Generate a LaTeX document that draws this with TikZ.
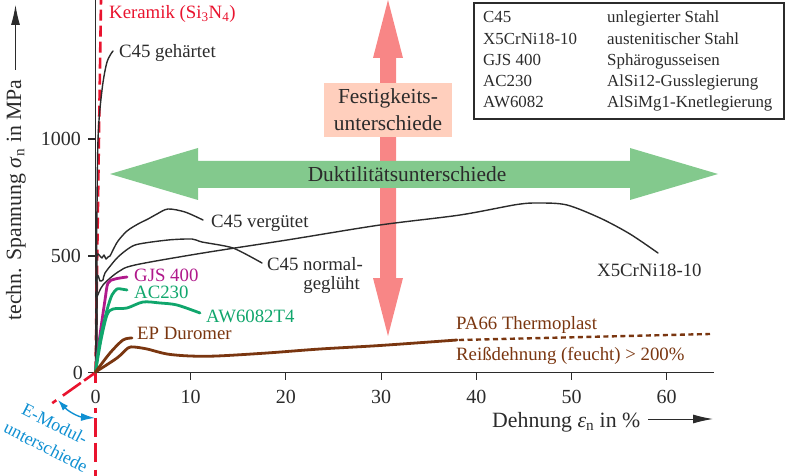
\documentclass[tikz,border=0pt]{standalone}
\usepackage{fontspec}
\setmainfont{Liberation Serif}
\usetikzlibrary{arrows.meta,positioning}
\definecolor{inkgray}{HTML}{2B2B2B}
\definecolor{ceramicred}{HTML}{E9132E}
\definecolor{arrowred}{HTML}{F88686}
\definecolor{arrowgreen}{HTML}{83C98D}
\definecolor{boxpeach}{HTML}{FFCFBD}
\definecolor{gjspurple}{HTML}{B0198B}
\definecolor{alugreen}{HTML}{10A66C}
\definecolor{polybrown}{HTML}{7A3610}
\definecolor{moduleblue}{HTML}{1090D2}

\begin{document}
\begin{tikzpicture}[x=1pt,y=-1pt,
        every node/.style={inner sep=0,text=inkgray},
        lab/.style={anchor=base west,font=\fontsize{18.8}{20}\selectfont},
        rowlab/.style={anchor=base west,font=\fontsize{16.9}{20}\selectfont},
        ticklab/.style={font=\fontsize{20}{22}\selectfont},
        axislab/.style={font=\fontsize{21.8}{24}\selectfont},
        biglab/.style={font=\fontsize{21.4}{27}\selectfont,align=center},
        bluelab/.style={anchor=center,rotate=-27,text=moduleblue,font=\fontsize{18}{20}\selectfont},
        curve/.style={line width=1.4pt,draw=inkgray,line cap=round,line join=round},
        thickcurve/.style={line width=2.8pt,line cap=round,line join=round},
        axis/.style={line width=1.1pt,draw=inkgray},
        ceramic/.style={line width=2.6pt,draw=ceramicred},
        ]
\useasboundingbox (0,0) rectangle (785,476);

% big arrows
\fill[arrowred] (388,0) -- (403,58) -- (396,58) -- (396,278) -- (403,278) -- (388,336)
    -- (373,278) -- (380,278) -- (380,58) -- (373,58) -- cycle;
\fill[arrowgreen] (110,174) -- (198,148) -- (198,161) -- (630,161) -- (630,148) -- (718,174)
    -- (630,200) -- (630,188) -- (198,188) -- (198,200) -- cycle;
\node [biglab,fill=boxpeach,minimum width=128pt,minimum height=54pt] (festigkeit) at (388,110) {Festigkeits-\\unterschiede};
\node [biglab] (duktil) at (407,174) {Duktilitätsunterschiede};

% axes
\coordinate (origin) at (95.5,372.5);
\coordinate (ytop) at (95.5,0);
\coordinate (xend) at (714,372.5);
\draw[axis] (ytop) -- (origin) -- (xend);
\foreach \xval in {10,20,30,40,50,60}
    \draw[axis] (95.5+9.52*\xval,372.5) -- (95.5+9.52*\xval,380);
\foreach \xval in {0,10,20,30,40,50,60}
    \node [ticklab,anchor=base] (xt\xval) at (95.5+9.52*\xval,403) {\xval};
\draw[axis] (88,256) -- (95.5,256);
\draw[axis] (88,139) -- (95.5,139);
\draw[axis] (88,372.5) -- (95.5,372.5);
\node [ticklab,anchor=base east] (y0) at (83,379) {0};
\node [ticklab,anchor=base east] (y500) at (81,262.5) {500};
\node [ticklab,anchor=base east] (y1000) at (81,146) {1000};

\node [axislab,rotate=90] (ylabel) at (16,200) {techn. Spannung \textit{σ}\textsubscript{n} in MPa};
\node [axislab,anchor=base west] (xlabel) at (492,427) {Dehnung \textit{ε}\textsubscript{n} in \%};
\coordinate (yarrow1) at (15.5,70);
\coordinate (yarrow2) at (15.5,5);
\coordinate (xarrow1) at (648,419);
\coordinate (xarrow2) at (713,419);
\draw[line width=1pt,draw=inkgray,-{Latex[length=20pt,width=9pt]}] (yarrow1) -- (yarrow2);
\draw[line width=1pt,draw=inkgray,-{Latex[length=20pt,width=9pt]}] (xarrow1) -- (xarrow2);

% modulus lines
\coordinate (cerTop) at (101,0);
\coordinate (cerDown) at (95.5,476);
\coordinate (cerLeft) at (51,404);
\draw[ceramic,dash pattern=on 11pt off 5pt] (origin) -- (cerTop);
\draw[ceramic,dash pattern=on 10pt off 25pt on 5pt off 5pt on 19pt off 6pt on 19pt off 8pt on 19pt off 6pt] (origin) -- (cerDown);
\draw[ceramic,dash pattern=on 14pt off 4pt on 22pt off 8pt on 5pt off 9pt] (origin) -- (cerLeft);
\coordinate (modA) at (58,400);
\coordinate (modB) at (95,418);
\draw[line width=1.4pt,draw=moduleblue,{Latex[length=11pt,width=7pt]}-{Latex[length=14pt,width=8pt]}] (modA) to[bend right=22] (modB);
\node [bluelab] (emodul) at (55,424) {E-Modul-};
\node [bluelab] (emodul2) at (46,447) {unterschiede};

% steels
\draw[curve] plot[smooth,tension=.5] coordinates {(95.5,372) (96.5,260) (98,140) (102,90) (107,62) (113,51)};
\draw[curve] plot[smooth,tension=.5] coordinates {(96.5,372) (97,290) (97,256) (100,256) (102,258) (104,255) (106,259) (108,257) (110,256)
    (113,250) (118,241) (127,231) (138,224) (148,219) (157,214) (168,209) (185,212) (203,220)};
\draw[curve] plot[smooth,tension=.4] coordinates {(97,372) (97,279) (100,281) (103,280) (105,273) (118,257) (135,245) (168,240) (192,239)
    (202,242) (233,248) (262,263)};
\draw[curve] plot[smooth,tension=.5] coordinates {(97,297) (103,285) (118,272) (135,265) (203,253) (287,240) (380,225) (460,215) (517,204.5)
    (540,203) (567,205) (600,218) (630,234) (658,253)};

% cast iron, aluminium, polymers
\draw[thickcurve,draw=gjspurple] plot[smooth,tension=.5] coordinates {(95.5,372) (100,335) (105,300) (108,283) (115,279) (127,277)};
\draw[thickcurve,draw=alugreen] plot[smooth,tension=.5] coordinates {(95.5,372) (100,340) (107,310) (112,295) (117,289) (121,289) (127,290)};
\draw[thickcurve,draw=alugreen] plot[smooth,tension=.5] coordinates {(95.5,372) (101,340) (107,315) (113,309) (127,308) (143,302) (160,303) (177,305) (200,313)};
\draw[thickcurve,draw=polybrown] plot[smooth,tension=.5] coordinates {(95.5,372) (110,353) (123,340) (132,338)};
\draw[thickcurve,draw=polybrown] plot[smooth,tension=.5] coordinates {(95.5,372) (117,358) (128,348) (134,347) (147,349) (167,354) (190,356) (217,356) (267,353) (320,349) (380,345.5) (457,340)};
\coordinate (dotA) at (459,340);
\coordinate (dotB) at (710,334);
\draw[line width=2.4pt,draw=polybrown,dash pattern=on 5pt off 3.5pt] (dotA) -- (dotB);

% labels
\node [lab,text=ceramicred] (keramik) at (109,19) {Keramik (Si\textsubscript{3}N\textsubscript{4})};
\node [lab] (gehaertet) at (119,58) {C45 gehärtet};
\node [lab] (verguetet) at (211,227) {C45 vergütet};
\node [lab] (normal) at (267,270) {C45 normal-};
\node [lab,anchor=base east] (geglueht) at (360,289) {geglüht};
\node [lab] (x5) at (597,276) {X5CrNi18-10};
\node [lab,text=gjspurple] (gjs) at (134,281) {GJS 400};
\node [lab,text=alugreen] (ac) at (134,298) {AC230};
\node [lab,text=alugreen] (aw) at (206,322) {AW6082T4};
\node [lab,text=polybrown] (ep) at (137,339) {EP Duromer};
\node [lab,text=polybrown] (pa) at (456,329) {PA66 Thermoplast};
\node [lab,text=polybrown] (reiss) at (456,360) {Reißdehnung (feucht) > 200\%};

% legend
\draw[line width=1.2pt,draw=inkgray] (474,3) rectangle (784,119);
\node [rowlab] (c45) at (483,23) {C45};
\node [rowlab] (x5cr) at (483,44.5) {X5CrNi18-10};
\node [rowlab] (gjs400) at (483,66) {GJS 400};
\node [rowlab] (ac230) at (483,87) {AC230};
\node [rowlab] (aw6082) at (483,108) {AW6082};
\node [rowlab] (c45t) at (607,23) {unlegierter Stahl};
\node [rowlab] (x5crt) at (607,44.5) {austenitischer Stahl};
\node [rowlab] (gjs400t) at (607,66) {Sphärogusseisen};
\node [rowlab] (ac230t) at (607,87) {AlSi12-Gusslegierung};
\node [rowlab] (aw6082t) at (607,108) {AlSiMg1-Knetlegierung};
\end{tikzpicture}
\end{document}
